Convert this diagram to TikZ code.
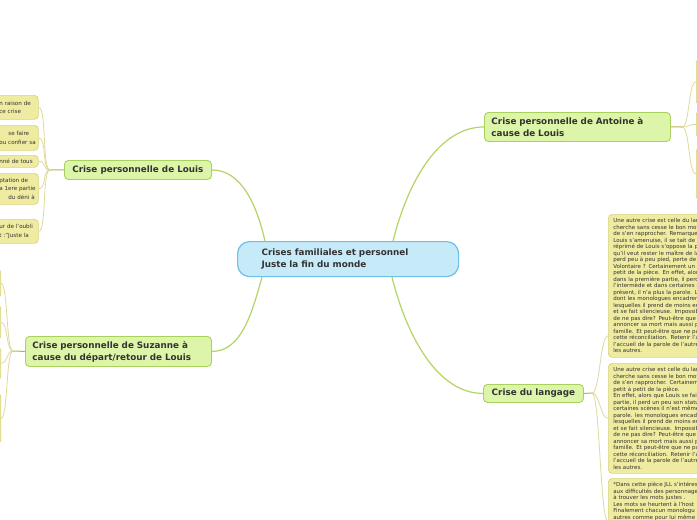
\documentclass[tikz,border=0pt]{standalone}
\usepackage{fontspec}
\setmainfont{DejaVu Sans}
\usetikzlibrary{positioning}
\definecolor{hubfill}{HTML}{C6EAF8}
\definecolor{hubline}{HTML}{6CBFE6}
\definecolor{branchfill}{HTML}{DDF5A8}
\definecolor{branchline}{HTML}{A9D15E}
\definecolor{leaffill}{HTML}{EFEBA0}
\definecolor{leafline}{HTML}{D9D47E}
\definecolor{trunkline}{HTML}{B3D465}
\definecolor{stubline}{HTML}{B9B356}
\definecolor{twigline}{HTML}{DEDA9C}
\definecolor{inkgray}{HTML}{333333}
\hyphenpenalty=10000

\begin{document}
\begin{tikzpicture}[
  x=1pt, y=-1pt,
  every node/.style={text=inkgray},
  hub/.style={draw=hubline, fill=hubfill, line width=1.2pt, rounded corners=12pt,
    font=\fontsize{8.8}{12}\selectfont\bfseries, align=left, inner xsep=24pt,
    anchor=north west},
  branch/.style={draw=branchline, fill=branchfill, line width=0.9pt, rounded corners=4pt,
    font=\fontsize{8.8}{12}\selectfont\bfseries, inner xsep=7pt, anchor=north west},
  leaf/.style={draw=leafline, fill=leaffill, line width=0.7pt, rounded corners=4pt,
    font=\fontsize{5.6}{8.5}\selectfont, align=left,
    inner xsep=4pt, anchor=north west},
  note/.style={leaf, font=\fontsize{5.5}{6.5}\selectfont,
    inner xsep=5pt, inner ysep=4pt},
  trunk/.style={draw=trunkline, line width=1.2pt},
  stub/.style={draw=stubline, line width=1pt},
  twig/.style={draw=twigline, line width=0.8pt}
]
\useasboundingbox (0,0) rectangle (697,520);
\fill[white] (0,0) rectangle (697,520);
\clip (0,0) rectangle (697,520);

% centre and main branches
\node[hub, text width=173pt, minimum height=35pt] (hub) at (237,241)
  {Crises familiales et personnel\\Juste la fin du monde};
\node[branch, minimum width=147pt, minimum height=19pt] (louis) at (64,160)
  {Crise personnelle de Louis};
\node[branch, text width=172pt, align=left, minimum height=29pt] (antoine) at (484,112)
  {Crise personnelle de Antoine à\\cause de Louis};
\node[branch, text width=172pt, align=left, minimum height=30pt] (suzanne) at (25,336)
  {Crise personnelle de Suzanne à\\cause du départ/retour de Louis};
\node[branch, minimum width=100pt, minimum height=18pt] (langage) at (483,384)
  {Crise du langage};

\draw[trunk] (louis.east) .. controls +(30,0) and +(-8,-35) .. ([xshift=28pt]hub.north west);
\draw[trunk] ([xshift=156pt]hub.north west) .. controls +(15,-60) and +(-45,0) .. (antoine.west);
\draw[trunk] (suzanne.east) .. controls +(30,0) and +(-10,35) .. ([xshift=25pt]hub.south west);
\draw[trunk] ([xshift=155pt]hub.south west) .. controls +(15,60) and +(-45,0) .. (langage.west);

% leaves of Louis
\node[leaf, text width=35pt, minimum height=24pt] (louisA) at (-5,95) {n~raison~de\\ce~crise};
\node[leaf, text width=35pt, minimum height=25pt] (louisB) at (-5,125) {\hspace*{9pt}se~faire\\ou~confier~sa};
\node[leaf, text width=35pt, minimum height=12pt] (louisC) at (-5,155) {nné~de~tous};
\node[leaf, text width=35pt, minimum height=31pt] (louisD) at (-5,173) {ptation~de\\a~1ere~partie\\\hspace*{9pt}du~déni~à};
\node[leaf, text width=35pt, minimum height=24pt] (louisE) at (-5,219) {ur~de~l'oubli\\t~:"Juste~la};
\coordinate (louisknot) at (50,170);
\draw[stub] (louis.west) -- (louisknot);
\foreach \n in {louisA,louisB,louisC,louisD,louisE}
  \draw[twig] (louisknot) .. controls +(-8,0) and +(8,0) .. (\n.east);

% leaves of Antoine
\node[leaf, minimum width=40pt, minimum height=47pt] (antoineA) at (696,58) {};
\node[leaf, minimum width=40pt, minimum height=28pt] (antoineB) at (696,110) {};
\node[leaf, minimum width=40pt, minimum height=53pt] (antoineC) at (696,147) {};
\coordinate (antoineknot) at (682,127);
\draw[stub] (antoine.east) -- (antoineknot);
\foreach \n in {antoineA,antoineB,antoineC}
  \draw[twig] (antoineknot) .. controls +(8,0) and +(-8,0) .. (\n.west);

% leaves of Suzanne
\node[leaf, anchor=north east, minimum width=40pt, minimum height=30pt] (suzanneA) at (1,268) {};
\node[leaf, anchor=north east, minimum width=40pt, minimum height=36pt] (suzanneB) at (1,304) {};
\node[leaf, anchor=north east, minimum width=40pt, minimum height=34pt] (suzanneC) at (1,346) {};
\node[leaf, anchor=north east, minimum width=40pt, minimum height=52pt] (suzanneD) at (1,392) {};
\coordinate (suzanneknot) at (13,351);
\draw[stub] (suzanne.west) -- (suzanneknot);
\foreach \n in {suzanneA,suzanneB,suzanneC,suzanneD}
  \draw[twig] (suzanneknot) .. controls +(-7,0) and +(7,0) .. (\n.east);

% leaves of the language crisis
\node[note, text width=130pt, minimum height=143pt] (noteA) at (608,214)
  {Une autre crise est celle du lan\\cherche sans cesse le bon mot\\de s'en rapprocher. Remarque\\Louis s'amenuise, il se tait de\\réprimé de Louis s'oppose la p\\qu'il veut rester le maître de la\\perd peu à peu pied, perte de\\Volontaire ? Certainement un p\\petit de la pièce. En effet, alor\\dans la première partie, il perd\\l'intermède et dans certaines s\\présent, il n'a plus la parole. L\\dont les monologues encadren\\lesquelles il prend de moins er\\et se fait silencieuse. Impossib\\de ne pas dire? Peut-être que\\annoncer sa mort mais aussi p\\famille. Et peut-être que ne pa\\cette réconciliation. Retenir l'a\\l'accueil de la parole de l'autre\\les autres.};
\node[note, text width=130pt, minimum height=110pt] (noteB) at (608,363)
  {Une autre crise est celle du lan\\cherche sans cesse le bon mot\\de s'en rapprocher.  Certainem\\petit à petit de la pièce.\\En effet, alors que Louis se fai\\partie, il perd un peu son statu\\certaines scènes il n'est même\\parole. les monologues encadr\\lesquelles il prend de moins er\\et se fait silencieuse. Impossib\\de ne pas dire? Peut-être que\\annoncer sa mort mais aussi p\\famille. Et peut-être que ne pa\\cette réconciliation. Retenir l'a\\l'accueil de la parole de l'autre\\les autres.};
\node[note, text width=130pt] (noteC) at (608,478)
  {*Dans cette pièce JLL s'intéres\\aux difficultés des personnage\\à trouver les mots justes .\\*Les mots se heurtent à l'host\\*Finalement chacun monologu\\autres comme pour lui même};
\coordinate (langageknot) at (592,393);
\draw[stub] (langage.east) -- (langageknot);
\draw[twig] (langageknot) .. controls +(8,0) and +(-8,0) .. ([yshift=-50pt]noteA.west);
\draw[twig] (langageknot) .. controls +(8,0) and +(-8,0) .. (noteB.west);
\draw[twig] (langageknot) .. controls +(8,0) and +(-8,0) .. ([yshift=-20pt]noteC.west);
\end{tikzpicture}
\end{document}
